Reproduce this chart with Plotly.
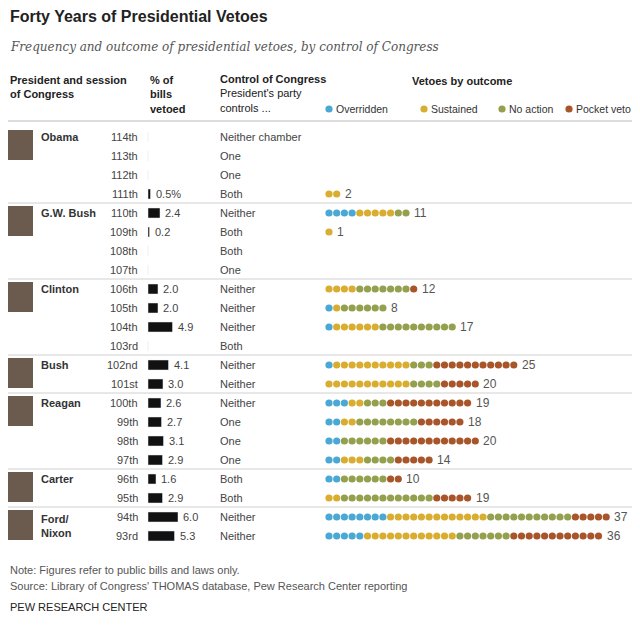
import plotly.graph_objects as go

sessions = ["114th","113th","112th","111th","110th","109th","108th","107th","106th","105th","104th","103rd",
            "102nd","101st","100th","99th","98th","97th","96th","95th","94th","93rd"]
pct = [None,None,None,0.5,2.4,0.2,None,None,2.0,2.0,4.9,None,4.1,3.0,2.6,2.7,3.1,2.9,1.6,2.9,6.0,5.3]
pct_labels = ["","","","0.5%","2.4","0.2","","","2.0","2.0","4.9","","4.1","3.0","2.6","2.7","3.1","2.9","1.6","2.9","6.0","5.3"]
control = ["Neither chamber","One","One","Both","Neither","Both","Both","One","Neither","Neither","Neither","Both",
           "Neither","Neither","Neither","One","One","One","Both","Both","Neither","Neither"]
overridden = [0,0,0,0,4,0,0,0,0,1,1,0,1,0,3,2,2,2,2,0,8,5]
sustained  = [0,0,0,2,5,1,0,0,4,1,6,0,10,11,2,2,0,3,0,2,13,12]
no_action  = [0,0,0,0,2,0,0,0,7,6,10,0,3,4,3,8,6,4,6,12,11,7]
pocket     = [0,0,0,0,0,0,0,0,1,0,0,0,11,5,11,6,12,5,2,5,5,12]
presidents = ["Obama","G.W. Bush","Clinton","Bush","Reagan","Carter","Ford/<br>Nixon"]
pres_first_row = [0,4,8,12,14,18,20]

names = ["Overridden","Sustained","No action","Pocket veto"]
series = [overridden, sustained, no_action, pocket]
colors = {"Overridden":"#4aa9d4","Sustained":"#d9ad2f","No action":"#94a04d","Pocket veto":"#a9552a"}
row_y = [137 + 19.0*i for i in range(len(sessions))]
DOT0, DSTEP = 329, 7.7
BAR0, BSCALE = 148, 5.0

fig = go.Figure()
fig.add_trace(go.Bar(y=row_y, x=[(p*BSCALE if p >= 0.5 else 1.5) if p else 0 for p in pct],
                     base=BAR0, orientation="h", width=10, marker_color="#111", hoverinfo="skip"))
for si, name in enumerate(names):
    xs, ys = [], []
    for r in range(len(sessions)):
        start = sum(a[r] for a in series[:si])
        for k in range(series[si][r]):
            xs.append(DOT0 + DSTEP*(start+k)); ys.append(row_y[r])
    fig.add_trace(go.Scatter(x=xs, y=ys, mode="markers", marker=dict(size=7.2, color=colors[name]), hoverinfo="skip"))

font = "Liberation Sans"
def txt(x, y, s, size=11, color="#333", anchor="left", **kw):
    fig.add_annotation(x=x, y=y, text=s, showarrow=False, xanchor=anchor, yanchor="middle",
                       font=dict(family=font, size=size, color=color), **kw)

for r in range(len(sessions)):
    y = row_y[r]
    txt(140, y, sessions[r], anchor="right", color="#444")
    txt(218, y, control[r], color="#444")
    if pct[r]:
        w = pct[r]*BSCALE if pct[r] >= 0.5 else 1.5
        txt(BAR0 + w + 3, y, pct_labels[r], color="#444")
    tot = sum(a[r] for a in series)
    if tot:
        txt(DOT0 + DSTEP*(tot-1) + 6, y, str(tot), size=12, color="#555")

for p, r in zip(presidents, pres_first_row):
    y0 = row_y[r]
    fig.add_shape(type="rect", x0=8, x1=33, y0=y0-7, y1=y0+23, fillcolor="#6b5a4e", line_width=0)
    txt(39, y0 if "<br>" not in p else y0+9, "<b>"+p+"</b>", color="#333", align="left")

for yl in [203, 279, 355, 393, 469, 507]:
    fig.add_shape(type="line", x0=0, x1=640, y0=yl, y1=yl, line=dict(color="#d0d0d0", width=1))
fig.add_shape(type="line", x0=0, x1=640, y0=121, y1=121, line=dict(color="#bbb", width=1))

txt(8, 16, "<b>Forty Years of Presidential Vetoes</b>", size=16, color="#222")
fig.add_annotation(x=8, y=47, text="<i>Frequency and outcome of presidential vetoes, by control of Congress</i>",
                   showarrow=False, xanchor="left", yanchor="middle", font=dict(family="DejaVu Serif", size=12, color="#555"))
txt(8, 87, "<b>President and session<br>of Congress</b>", size=11, color="#222", align="left")
txt(148, 94, "<b>% of<br>bills<br>vetoed</b>", size=11, color="#222", align="left")
txt(218, 87, "<b>Control of Congress</b><br>President's party<br>controls ...", size=11, color="#222", align="left", yshift=-6)
txt(410, 81, "<b>Vetoes by outcome</b>", size=11, color="#222")
lx = [329, 424, 502, 569]
for (name, c), x in zip(colors.items(), lx):
    fig.add_trace(go.Scatter(x=[x], y=[109], mode="markers", marker=dict(size=7.2, color=c), hoverinfo="skip"))
    txt(x+5, 109, name, size=10.5, color="#333")

txt(8, 570, "Note: Figures refer to public bills and laws only.", size=11, color="#555")
txt(8, 586, "Source: Library of Congress' THOMAS database, Pew Research Center reporting", size=11, color="#555")
txt(8, 607, "PEW RESEARCH CENTER", size=11, color="#222")

fig.update_layout(width=632, height=620, margin=dict(l=0, r=0, t=0, b=0), showlegend=False,
                  plot_bgcolor="white", paper_bgcolor="white",
                  xaxis=dict(range=[8, 640], visible=False, fixedrange=True),
                  yaxis=dict(range=[628, 8], visible=False, fixedrange=True))
fig.write_html("out.html")
